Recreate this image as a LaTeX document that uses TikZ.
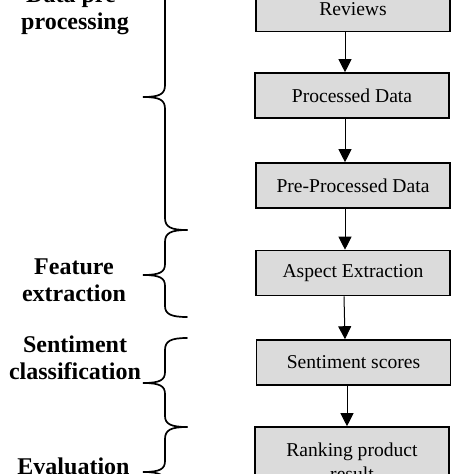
\documentclass[tikz,border=0pt]{standalone}
\usepackage{fontspec}
\setmainfont{Liberation Serif}
\usetikzlibrary{arrows.meta}

\tikzset{
  stagebox/.style={draw, line width=1.6pt, fill=gray!28, minimum width=194pt, minimum height=45pt,
    align=center, font=\fontsize{19.6}{24}\selectfont},
  phase/.style={align=center, font=\fontsize{24}{27}\selectfont\bfseries},
  flow/.style={-{Triangle[length=13pt, width=13pt]}, line width=1pt},
  bracket/.style={line width=1.7pt, line cap=round}
}

\begin{document}
\begin{tikzpicture}[x=1pt, y=-1pt]
        \useasboundingbox (0,0) rectangle (474,474);
        \clip (0,0) rectangle (474,474);

        % Boxes
        \node[stagebox] (reviews) at (353, 9) {Reviews};
        \node[stagebox] (processed) at (352, 95.5) {Processed Data};
        \node[stagebox] (preprocessed) at (353, 185.5) {Pre-Processed Data};
        \node[stagebox] (aspect) at (353, 273) {Aspect Extraction};
        \node[stagebox] (scores) at (353.5, 362.5) {Sentiment scores};
        \node[stagebox, minimum height=70pt] (ranking) at (352, 462) {Ranking product\\result};

        % Arrows (a little left of the box centres)
        \draw[flow] ([xshift=-8pt]reviews.south) -- ([xshift=-7pt]processed.north);
        \draw[flow] ([xshift=-7pt]processed.south) -- ([xshift=-8pt]preprocessed.north);
        \draw[flow] ([xshift=-8pt]preprocessed.south) -- ([xshift=-8pt]aspect.north);
        \draw[flow] ([xshift=-9pt]aspect.south) -- ([xshift=-8.5pt]scores.north);
        \draw[flow] ([xshift=-6.5pt]scores.south) -- ([xshift=-5pt]ranking.north);

        % Phase labels
        \node[phase] (prep) at (75, 11) {Data pre-\\processing};
        \node[phase] (feat) at (74, 280) {Feature\\extraction};
        \node[phase] (senti) at (75, 358) {Sentiment\\classification};
        \node[phase] (eval) at (73.5, 466) {Evaluation};

        % Braces
        \draw[bracket] (187,-36) .. controls (171,-36) and (165,-33) .. (165,-24) -- (165,85)
          .. controls (165,94) and (160,97) .. (143,97)
          .. controls (160,97) and (165,100) .. (165,109) -- (165,218)
          .. controls (165,227) and (171,230) .. (187,230);
        \draw[bracket] (187,230) .. controls (171,230) and (165,233) .. (165,242) -- (165,264)
          .. controls (165,272) and (160,275) .. (143,275)
          .. controls (160,275) and (165,278) .. (165,286) -- (165,306)
          .. controls (165,314) and (171,317) .. (187,317);
        \draw[bracket] (187,338) .. controls (171,338) and (165,341) .. (165,350) -- (165,372)
          .. controls (165,380) and (160,383) .. (143,383)
          .. controls (160,383) and (165,386) .. (165,394) -- (165,416)
          .. controls (165,424) and (171,427) .. (187,427);
        \draw[bracket] (187,427) .. controls (171,427) and (165,430) .. (165,439) -- (165,461)
          .. controls (165,469) and (160,472) .. (143,472)
          .. controls (160,472) and (165,475) .. (165,483) -- (165,505);
\end{tikzpicture}
\end{document}
